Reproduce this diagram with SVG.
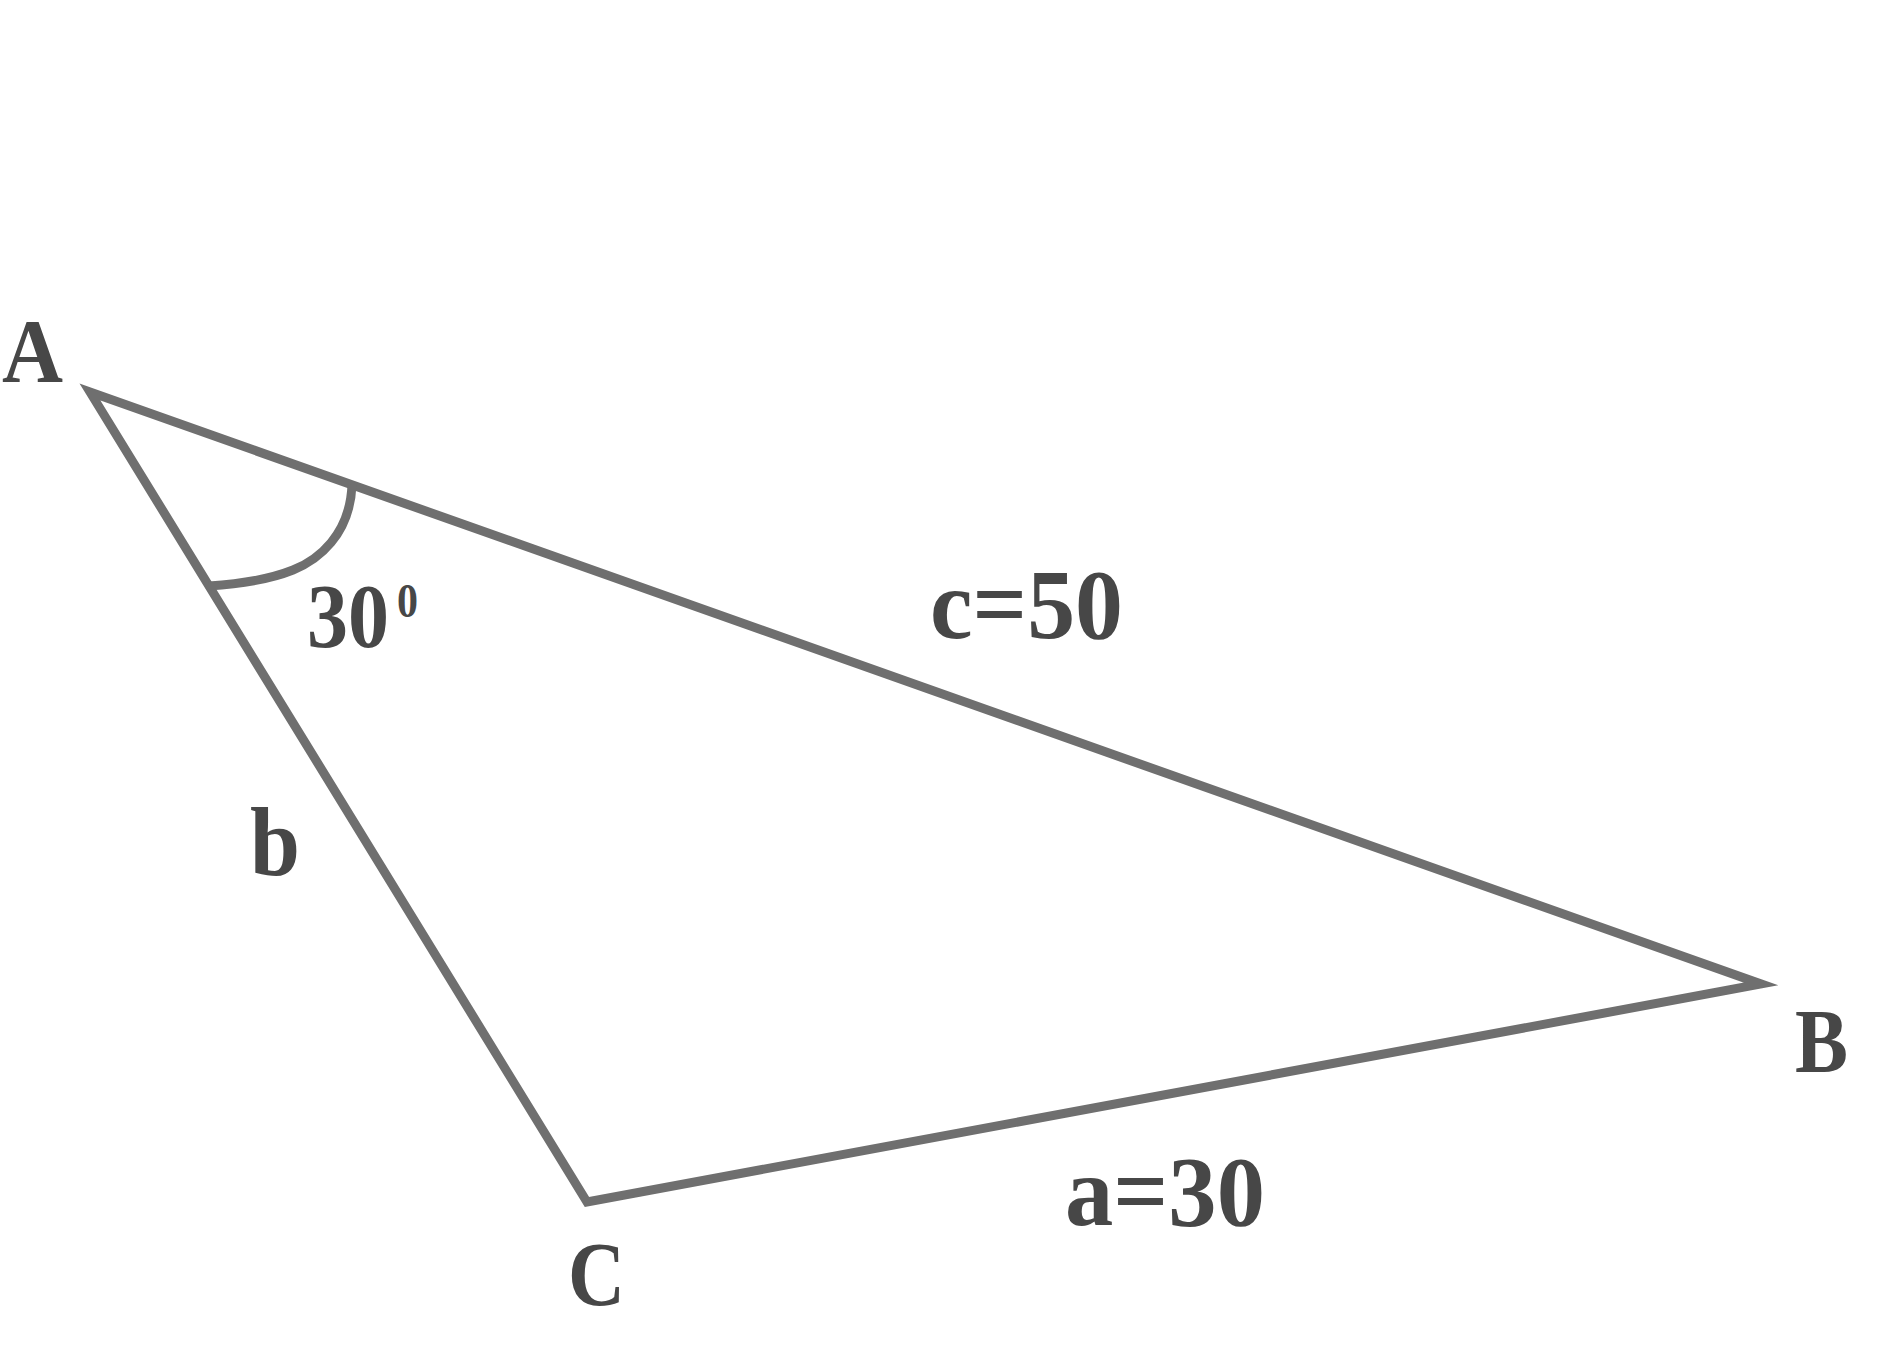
<svg xmlns="http://www.w3.org/2000/svg" width="1879" height="1369" viewBox="0 0 1879 1369">
<style>
.edge{fill:none;stroke:#6f6f6f;stroke-width:9;stroke-linejoin:miter;stroke-miterlimit:10}
.lbl{font-weight:bold;fill:#474747}
</style>
<rect width="1879" height="1369" fill="#ffffff"/>
<g id="connectors">
<path id="triangle" class="edge" d="M90,392 L1761,984 L587,1202 Z"/>
<path id="angle-arc" class="edge" d="M352,485 C350,535 318,560 293,570 C268,580 240,584 209,586"/>
</g>
<g font-family="'Liberation Serif', 'Times New Roman', Times, serif">
<g id="node-A"><text class="lbl" x="2" y="382" font-size="90" textLength="61" lengthAdjust="spacingAndGlyphs">A</text></g>
<g id="node-B"><text class="lbl" x="1795" y="1072" font-size="90" textLength="53" lengthAdjust="spacingAndGlyphs">B</text></g>
<g id="node-C"><text class="lbl" x="568" y="1305" font-size="90" textLength="57" lengthAdjust="spacingAndGlyphs">C</text></g>
<g id="label-b"><text class="lbl" x="250" y="875" font-size="98" textLength="50" lengthAdjust="spacingAndGlyphs">b</text></g>
<g id="label-c"><text class="lbl" x="930" y="638" font-size="100" textLength="193" lengthAdjust="spacingAndGlyphs">c=50</text></g>
<g id="label-a"><text class="lbl" x="1065" y="1225" font-size="100" textLength="200" lengthAdjust="spacingAndGlyphs">a=30</text></g>
<g id="label-angle">
<text class="lbl" x="307" y="647" font-size="92" textLength="82" lengthAdjust="spacingAndGlyphs">30</text>
<text class="lbl" x="397" y="617" font-size="48" textLength="21" lengthAdjust="spacingAndGlyphs">0</text>
</g>
</g>
</svg>
